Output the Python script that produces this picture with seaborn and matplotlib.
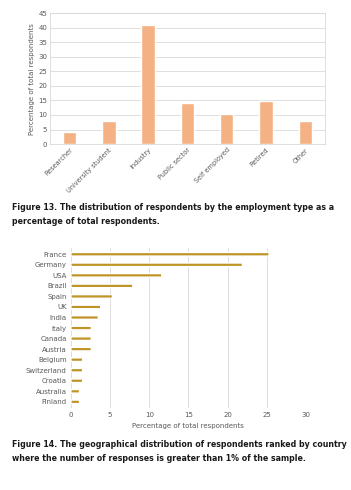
import matplotlib
matplotlib.use("Agg")
import matplotlib.pyplot as plt
from matplotlib import font_manager
import pandas as pd
import seaborn as sns

employment = ["Researcher", "University student", "Industry", "Public sector",
              "Self employed", "Retired", "Other"]
employment_pct = [4.0, 7.8, 40.8, 14.2, 10.4, 14.8, 8.1]

countries = ["France", "Germany", "USA", "Brazil", "Spain", "UK", "India", "Italy",
             "Canada", "Austria", "Belgium", "Switzerland", "Croatia", "Australia", "Finland"]
country_pct = [25.3, 21.9, 11.6, 7.9, 5.3, 3.8, 3.5, 2.6, 2.6, 2.6, 1.5, 1.5, 1.5, 1.1, 1.1]

sns.set_style("white")
plt.rcParams["font.family"] = ["DejaVu Sans"]

# captions use a narrow bold face if one is around
cap_font = None
for f in font_manager.fontManager.ttflist:
    if f.name in ("Liberation Sans Narrow", "DejaVu Sans") and f.stretch == "condensed" \
            and f.weight in (700, "bold") and f.style == "normal":
        cap_font = f.fname
        break
if cap_font is not None:
    cap_prop = font_manager.FontProperties(fname=cap_font, size=7.0)
else:
    cap_prop = font_manager.FontProperties(family="DejaVu Sans", weight="bold", size=6.0)

tick_grey = "#595959"
grid_grey = "#d9d9d9"
cap_color = "#1a1a1a"

fig = plt.figure(figsize=(3.51, 4.9), dpi=100)

# Figure 13
ax1 = fig.add_axes([0.1425, 0.706, 0.783, 0.267])
df1 = pd.DataFrame({"type": employment, "pct": employment_pct})
sns.barplot(data=df1, x="type", y="pct", color="#F4B183", saturation=1,
            width=0.34, ax=ax1)
ax1.set_ylim(0, 45)
ax1.set_yticks(range(0, 46, 5))
ax1.set_xlim(-0.5, 6.5)
ax1.yaxis.grid(True, color=grid_grey, lw=0.6)
ax1.set_axisbelow(True)
for s in ax1.spines.values():
    s.set_color(grid_grey)
    s.set_linewidth(0.6)
ax1.set_xlabel("")
ax1.set_ylabel("Percentage of total respondents", fontsize=5, color=tick_grey, labelpad=2)
ax1.tick_params(axis="both", length=0, labelsize=5, labelcolor=tick_grey, pad=2)
ax1.tick_params(axis="x", labelsize=4.7)
plt.setp(ax1.get_xticklabels(), rotation=45, ha="right", rotation_mode="anchor")

captions = []
captions.append(fig.text(0.034, 1 - 208 / 490,
                         "Figure 13. The distribution of respondents by the employment type as a",
                         va="center", color=cap_color, fontproperties=cap_prop))
captions.append(fig.text(0.034, 1 - 222 / 490, "percentage of total respondents.",
                         va="center", color=cap_color, fontproperties=cap_prop))

# Figure 14
ax2 = fig.add_axes([0.202, 0.167, 0.6695, 0.327])
df2 = pd.DataFrame({"country": countries, "pct": country_pct})
sns.barplot(data=df2, y="country", x="pct", color="#BF9326", saturation=1,
            width=0.34, orient="h", ax=ax2)
for p in ax2.patches:
    p.set_snap(False)
ax2.set_xlim(0, 30)
ax2.set_xticks(range(0, 31, 5))
ax2.set_ylim(14.6, -0.6)
ax2.xaxis.grid(True, color=grid_grey, lw=0.6)
ax2.set_axisbelow(True)
for s in ax2.spines.values():
    s.set_visible(False)
ax2.set_ylabel("")
ax2.set_xlabel("Percentage of total respondents", fontsize=5, color=tick_grey, labelpad=3)
ax2.tick_params(axis="both", length=0, labelsize=5, labelcolor=tick_grey, pad=3)

captions.append(fig.text(0.034, 1 - 444 / 490,
                         "Figure 14. The geographical distribution of respondents ranked by country",
                         va="center", color=cap_color, fontproperties=cap_prop))
captions.append(fig.text(0.034, 1 - 458 / 490,
                         "where the number of responses is greater than 1% of the sample.",
                         va="center", color=cap_color, fontproperties=cap_prop))

# fit the first caption line to the width it has in the page (about 321 px)
fig.canvas.draw()
w = captions[0].get_window_extent().width
size = cap_prop.get_size() * 321 / w
for t in captions:
    t.set_fontsize(size)

fig.savefig("out.png", dpi=100)
